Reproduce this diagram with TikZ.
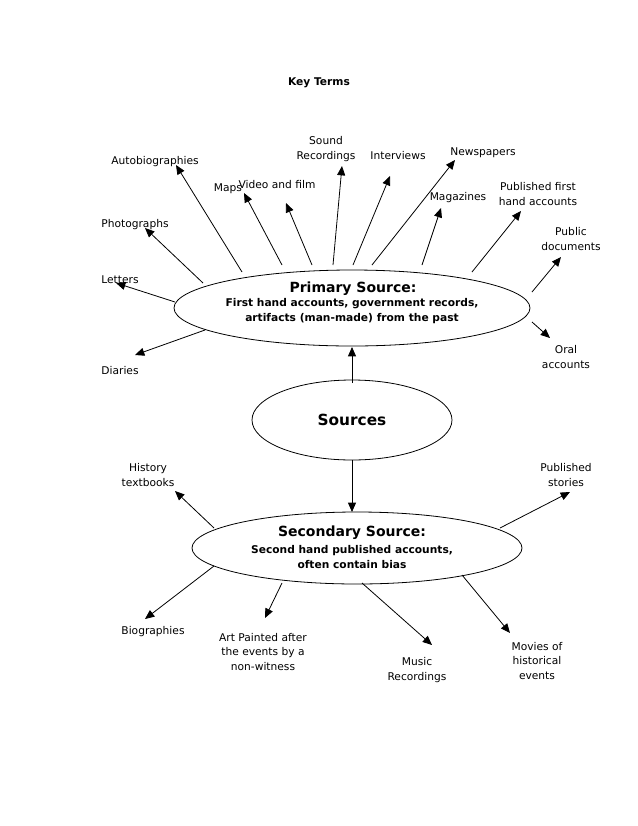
\documentclass[tikz,border=0pt]{standalone}
\usepackage{fontspec}
\setmainfont{DejaVu Sans}
\usetikzlibrary{arrows.meta}
\begin{document}
\begin{tikzpicture}[x=0.75pt,y=-0.75pt,
  lab/.style={font=\fontsize{8}{11}\selectfont,align=center,inner sep=0pt},
  bl/.style={font=\bfseries\fontsize{8}{11.5}\selectfont,align=center,inner sep=0pt},
  big/.style={font=\bfseries\fontsize{10.5}{12}\selectfont,inner sep=0pt},
  arr/.style={draw,line width=0.6pt,-{Triangle[length=7pt,width=6pt]}},
  ell/.style={draw,line width=0.6pt}]
\useasboundingbox (0,0) rectangle (638,826);
\node[bl] (key) at (319,83) {Key Terms};
\draw[ell] (352,308) ellipse [x radius=178,y radius=38];
\draw[ell] (352,420) ellipse [x radius=100,y radius=40];
\draw[ell] (357,548) ellipse [x radius=165,y radius=36];
\node[big] (ps) at (353,289) {Primary Source:};
\node[bl] (pst) at (352,311) {First hand accounts, government records,\\artifacts (man-made) from the past};
\node[big,font=\bfseries\fontsize{11.5}{13}\selectfont] (src) at (352,420) {Sources};
\node[big] (ss) at (352,533) {Secondary Source:};
\node[bl] (sst) at (352,557) {Second hand published accounts,\\often contain bias};
\node[lab] (l1) at (155,162) {Autobiographies};
\node[lab] (l2) at (228,189) {Maps};
\node[lab] (l3) at (277,185) {Video and film};
\node[lab] (l4) at (326,149) {Sound\\Recordings};
\node[lab] (l5) at (398,156) {Interviews};
\node[lab] (l6) at (483,153) {Newspapers};
\node[lab] (l7) at (458,198) {Magazines};
\node[lab] (l8) at (538,194) {Published first\\hand accounts};
\node[lab] (l9) at (571,239) {Public\\documents};
\node[lab] (l10) at (135,225) {Photographs};
\node[lab] (l11) at (120,280) {Letters};
\node[lab] (l12) at (120,371) {Diaries};
\node[lab] (l13) at (566,357) {Oral\\accounts};
\node[lab] (l14) at (148,475) {History\\textbooks};
\node[lab] (l15) at (566,475) {Published\\stories};
\node[lab] (l16) at (153,632) {Biographies};
\node[lab] (l17) at (263,652) {Art Painted after\\the events by a\\non-witness};
\node[lab] (l18) at (417,670) {Music\\Recordings};
\node[lab] (l19) at (537,661) {Movies of\\historical\\events};
\foreach \i/\a/\b/\c/\d in {1/242/272/176/165,2/282/265/244/193,3/312/265/286/203,4/333/265/342/166,5/353/265/390/176,6/372/265/455/160,7/422/265/441/208,8/472/272/521/211,9/532/292/561/257,10/203/283/145/228,11/175/302/116/283,12/205/330/135/355,13/532/322/550/338,14/214/528/175/491,15/500/528/570/492,16/214/566/145/619,17/282/583/265/618,18/362/583/432/645,19/462/575/510/633}{
  \coordinate (s\i) at (\a,\b);
  \coordinate (e\i) at (\c,\d);
  \draw[arr] (s\i) -- (e\i);
}
\coordinate (pa) at (352,383); \coordinate (pb) at (352,347);
\coordinate (sa) at (352,460); \coordinate (sb) at (352,512);
\draw[arr] (pa) -- (pb);
\draw[arr] (sa) -- (sb);
\end{tikzpicture}
\end{document}
